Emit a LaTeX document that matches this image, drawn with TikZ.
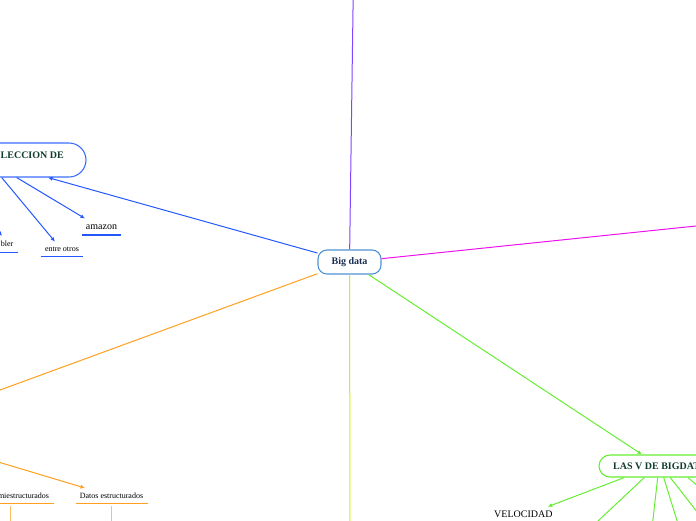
\documentclass[tikz,border=0pt]{standalone}
\usepackage{fontspec}
\setmainfont{Liberation Serif}
\usetikzlibrary{arrows.meta,calc}
\definecolor{cblue}{HTML}{2458FF}
\definecolor{cboxblue}{HTML}{3D6FFF}
\definecolor{cbd}{HTML}{5092D6}
\definecolor{cpurple}{HTML}{8444FF}
\definecolor{cmag}{HTML}{EE11EE}
\definecolor{cyel}{HTML}{D2F000}
\definecolor{cgreen}{HTML}{66EE33}
\definecolor{corange}{HTML}{FFA020}
\definecolor{corange2}{HTML}{FFC060}
\definecolor{cnavy}{HTML}{1A2E50}
\definecolor{cteal}{HTML}{103D30}
\tikzset{
  arr/.style={-{Latex[length=4.5pt,width=4pt]}},
  conn/.style={line width=1pt},
  bignode/.style={draw=cbd, line width=1.1pt, rounded corners=9pt, minimum width=63pt, minimum height=24pt, font=\bfseries\fontsize{10}{12}\selectfont, text=cnavy},
  pill/.style={draw=#1, line width=1.1pt, fill=white},
  titletext/.style={font=\bfseries\fontsize{10}{12}\selectfont, text=cteal, inner sep=0pt},
  bigtext/.style={font=\fontsize{10}{12}\selectfont, inner sep=0pt},
  smalltext/.style={font=\fontsize{8}{10}\selectfont, inner sep=0pt},
  uline/.style={line width=1.3pt},
}
\begin{document}
\begin{tikzpicture}[x=1pt,y=-1pt]
\useasboundingbox (0,0) rectangle (696,520);
\clip (0,0) rectangle (696,520);
% nodes
\node[bignode] (bd) at (349.5,262) {Big data};
\node[pill=cboxblue, rounded corners=17pt, minimum width=150pt, minimum height=34pt] (col) at (11,160) {};
\node[titletext, anchor=base west] (colt) at (0.5,158) {LECCION DE};
\node[pill=cgreen, rounded corners=11pt, minimum width=170pt, minimum height=22pt] (lasv) at (684,466) {};
\node[titletext, anchor=base west] (lasvt) at (613,469.5) {LAS V DE BIGDAT};
\node[bigtext, anchor=base] (amz) at (101.5,229.5) {amazon};
\node[smalltext, anchor=base] (eo) at (62,251) {entre otros};
\node[smalltext, anchor=base east] (tb) at (13.5,246.5) {bler};
\node[smalltext, anchor=base] (de) at (111.5,498) {Datos estructurados};
\node[smalltext, anchor=base east] (se) at (49.3,498) {miestructurados};
\node[bigtext, anchor=base west] (vel) at (494,517.7) {VELOCIDAD};
% free ends
\coordinate (ptop) at (353.2,-5);
\coordinate (mag) at (720,223.5);
\coordinate (ybot) at (350,530);
\coordinate (oleft) at (-30,401);
\coordinate (oleft2) at (-30,453.5);
\coordinate (bleft) at (-25,200);
\coordinate (g2) at (590,528.5);
\coordinate (g3) at (652,528);
\coordinate (g4) at (679.3,528);
\coordinate (g5) at (712,531);
\coordinate (g6) at (720,505);
% main branches
\draw[conn, cpurple] (ptop) -- (bd);
\draw[conn, cmag] (bd) -- (mag);
\draw[conn, cyel] (bd) -- (ybot);
\draw[conn, cgreen, arr] (bd) -- ([xshift=-42pt]lasv.north);
\draw[conn, cblue, arr] (bd) -- ([xshift=37pt]col.south);
\draw[conn, corange] (bd) -- (oleft);
% blue children
\draw[conn, cblue, arr] ([xshift=5.7pt]col.south) -- ([shift={(-16.5pt,11pt)}]amz.base);
\draw[conn, cblue, arr] ([xshift=-9.3pt]col.south) -- ([shift={(-7pt,9.3pt)}]eo.base);
\draw[conn, cblue, arr] (bleft) -- ([shift={(-11.5pt,10.5pt)}]tb.base east);
\draw[uline, cblue] ([shift={(-19.5pt,-5.5pt)}]amz.base) -- ++(39,0);
\draw[uline, cblue] ([shift={(-21.3pt,-5.5pt)}]eo.base) -- ++(42.6,0);
\draw[uline, cblue] ([shift={(4.8pt,-5.8pt)}]tb.base east) -- ++(-22,0);
% orange children
\draw[conn, corange, arr] (oleft2) -- ([shift={(-26.5pt,10pt)}]de.base);
\draw[uline, corange] ([shift={(-35.5pt,-5.3pt)}]de.base) -- ++(72,0);
\draw[uline, corange] ([shift={(4.7pt,-5.3pt)}]se.base east) -- ++(-60,0);
\draw[conn, corange2] ([shift={(0.2pt,-8pt)}]de.base) -- ++(0,20);
\draw[conn, corange2] ([shift={(-38.6pt,-8pt)}]se.base east) -- ++(0,20);
% green children
\draw[conn, cgreen, arr] ([xshift=-59.7pt]lasv.south) -- ([shift={(53.7pt,11pt)}]vel.base west);
\draw[conn, cgreen] ([xshift=-39.7pt]lasv.south) -- (g2);
\draw[conn, cgreen] ([xshift=-26.3pt]lasv.south) -- (g3);
\draw[conn, cgreen] ([xshift=-20.3pt]lasv.south) -- (g4);
\draw[conn, cgreen] ([xshift=-13.7pt]lasv.south) -- (g5);
\draw[conn, cgreen] ([xshift=4pt]lasv.south) -- (g6);
\end{tikzpicture}
\end{document}
